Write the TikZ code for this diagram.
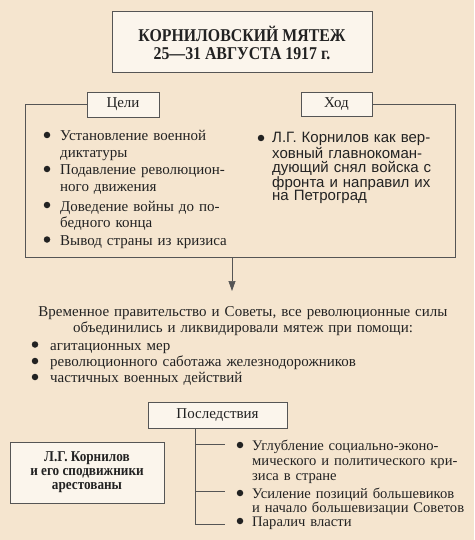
\documentclass[tikz,border=0pt]{standalone}
\usepackage{fontspec}
\setmainfont{Liberation Serif}
\newfontfamily\condserif{Liberation Serif}[FakeStretch=0.88]
\newfontfamily\hodsans{Liberation Sans}
\usetikzlibrary{arrows.meta}
\definecolor{bgc}{HTML}{F5E5CF}
\definecolor{boxfill}{HTML}{FBF5EC}
\definecolor{ink}{HTML}{222222}
\definecolor{linec}{HTML}{555555}
\begin{document}
\begin{tikzpicture}[x=1pt,y=-1pt,
  box/.style={draw=linec, line width=0.8pt, fill=boxfill, inner sep=0pt, text=ink, align=center},
  frameline/.style={draw=linec, line width=0.7pt},
  itemtext/.style={anchor=base west, inner sep=0pt, text width=#1, align=left, text=ink},
  dotb/.style={circle, fill=ink, inner sep=0pt, minimum size=6.5pt},
  bodyfont/.style={font=\fontsize{15}{17}\selectfont},
  arrowtip/.style={-{Triangle[length=10pt,width=7pt]}}]
\useasboundingbox (0,0) rectangle (474,540);
\fill[bgc] (0,0) rectangle (474,540);

% title
\node[box, minimum width=260pt, minimum height=61pt] (title) at (242,41.5) {};
\node[anchor=base, inner sep=0pt, align=center, text=ink, font=\condserif\bfseries\fontsize{18}{18.5}\selectfont] (titletext) at (242,60)
  {КОРНИЛОВСКИЙ МЯТЕЖ\\25—31 АВГУСТА 1917 г.};

% section headers
\node[box, minimum width=72pt, minimum height=25pt, bodyfont] (goals) at (123,104.5) {Цели};
\node[box, minimum width=71pt, minimum height=24pt, bodyfont] (course) at (336.5,104) {Ход};

% frame
\coordinate (fTL) at (25,104.5);
\coordinate (fBL) at (25,257);
\coordinate (fBR) at (455,257);
\coordinate (fTR) at (455,104);
\draw[frameline] (goals.west) -- (fTL) -- (fBL) -- (fBR) -- (fTR) -- (course.east);

% goals list
\node[dotb] (gd1) at (47,135) {};
\node[dotb] (gd2) at (47,169) {};
\node[dotb] (gd3) at (47,205) {};
\node[dotb] (gd4) at (47,239.5) {};
\node[itemtext=170pt, bodyfont] (g1) at (60,141) {Установление военной\\диктатуры};
\node[itemtext=170pt, bodyfont] (g2) at (60,175) {Подавление революцион-\\ного движения};
\node[itemtext=170pt, bodyfont] (g3) at (60,211) {Доведение войны до по-\\бедного конца};
\node[itemtext=170pt, bodyfont] (g4) at (60,245.5) {Вывод страны из кризиса};

% course list
\node[dotb] (cd1) at (261,138) {};
\node[itemtext=185pt, font=\hodsans\fontsize{15}{13.8}\selectfont] (c1) at (272,143)
  {Л.Г. Корнилов как вер-\\ховный главнокоман-\\дующий снял войска с\\фронта и направил их\\на Петроград};

% arrow
\coordinate (arrS) at (232,257);
\coordinate (arrE) at (232,291);
\draw[frameline, arrowtip, fill=linec] (arrS) -- (arrE);

% middle text
\node[anchor=base, inner sep=0pt, align=center, text width=440pt, text=ink, font=\fontsize{15}{15.5}\selectfont] (mid) at (243,316.5)
  {Временное правительство и Советы, все революционные силы\\объединились и ликвидировали мятеж при помощи:};
\node[dotb] (md1) at (35,344.5) {};
\node[dotb] (md2) at (35,361) {};
\node[dotb] (md3) at (35,377) {};
\node[itemtext=400pt, bodyfont] (m1) at (50,350) {агитационных мер};
\node[itemtext=400pt, bodyfont] (m2) at (50,366.5) {революционного саботажа железнодорожников};
\node[itemtext=400pt, bodyfont] (m3) at (50,382.5) {частичных военных действий};

% consequences
\node[box, minimum width=139pt, minimum height=26pt, bodyfont] (cons) at (217.5,415) {Последствия};
\node[box, minimum width=154pt, minimum height=61pt, font=\condserif\bfseries\fontsize{15}{14}\selectfont] (arrest) at (87,472.5)
  {Л.Г. Корнилов\\и его сподвижники\\арестованы};

\coordinate (vtop) at (195,428);
\coordinate (b1) at (195,444.5);
\coordinate (b2) at (195,491);
\coordinate (b3) at (195,524);
\coordinate (e1) at (225,444.5);
\coordinate (e2) at (225,491);
\coordinate (e3) at (225,524);
\draw[frameline] (vtop) -- (b3) -- (e3);
\draw[frameline] (b1) -- (e1);
\draw[frameline] (b2) -- (e2);

\node[dotb] (rd1) at (240,445) {};
\node[dotb] (rd2) at (240,493) {};
\node[dotb] (rd3) at (240,521) {};
\node[itemtext=222pt, font=\fontsize{14.6}{15}\selectfont] (r1) at (252,450.5)
  {Углубление социально-эконо-\\мического и политического кри-\\зиса в стране};
\node[itemtext=222pt, font=\fontsize{14.6}{14}\selectfont] (r2) at (252,498.5)
  {Усиление позиций большевиков\\и начало большевизации Советов};
\node[itemtext=222pt, font=\fontsize{14.6}{15}\selectfont] (r3) at (252,526.5) {Паралич власти};
\end{tikzpicture}
\end{document}
